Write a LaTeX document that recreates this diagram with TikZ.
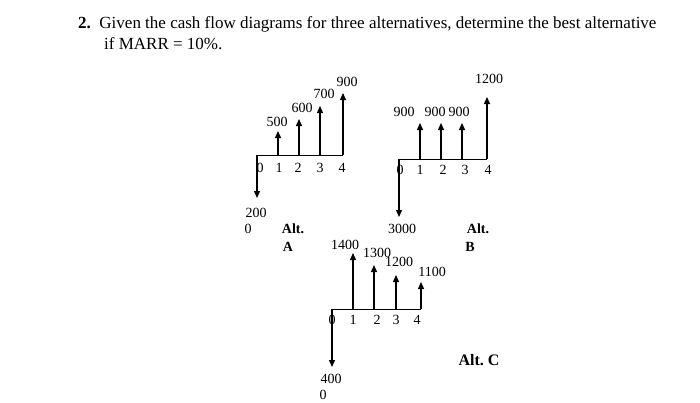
\documentclass[tikz,border=0pt]{standalone}
\usepackage{fontspec}
\setmainfont{Liberation Serif}
\usetikzlibrary{arrows.meta}

\begin{document}
\begin{tikzpicture}[x=1pt, y=-1pt, font=\fontsize{14}{16}\selectfont,
  flow/.style={-{Triangle[length=7pt, width=6pt]}, line width=1.3pt},
  lbl/.style={inner sep=0pt},
  alt/.style={inner sep=0pt, font=\fontsize{14}{16}\selectfont\bfseries}]
\useasboundingbox (0,0) rectangle (700,402);

% the question
\node [anchor=base west, inner sep=0pt, font=\fontsize{17}{20}\selectfont] (q1) at (78,28)
  {\textbf{2.}\ \ Given the cash flow diagrams for three alternatives, determine the best alternative};
\node [anchor=base west, inner sep=0pt, font=\fontsize{17}{20}\selectfont] (q2) at (104,49)
  {if MARR = 10\%.};

% Alt. A
\coordinate (a0) at (257,155);
\coordinate (a1) at (278,155);
\coordinate (a2) at (299,155);
\coordinate (a3) at (320,155);
\coordinate (a4) at (343,155);
\coordinate (ta0) at (257,198);
\coordinate (ta1) at (278,131);
\coordinate (ta2) at (299,119);
\coordinate (ta3) at (320,106);
\coordinate (ta4) at (343,93);
\draw (a0) -- (a4);
\draw [flow] (a0) -- (ta0);
\draw [flow] (a1) -- (ta1);
\draw [flow] (a2) -- (ta2);
\draw [flow] (a3) -- (ta3);
\draw [flow] (a4) -- (ta4);

\node [lbl] (va1) at (277,122) {500};
\node [lbl] (va2) at (302,108) {600};
\node [lbl] (va3) at (324,94) {700};
\node [lbl] (va4) at (347,82) {900};
\node [lbl] (na0) at (260,168) {0};
\node [lbl] (na1) at (279,168) {1};
\node [lbl] (na2) at (298,168) {2};
\node [lbl] (na3) at (320,168) {3};
\node [lbl] (na4) at (342,168) {4};
\node [lbl] (va0) at (256,213) {200};
\node [lbl] (va0b) at (248,229) {0};
\node [alt] (altA) at (293,229) {Alt.};
\node [alt] (altAb) at (288,247) {A};

% Alt. B
\coordinate (b0) at (399,159);
\coordinate (b1) at (420,159);
\coordinate (b2) at (441,159);
\coordinate (b3) at (462,159);
\coordinate (b4) at (487,159);
\coordinate (tb0) at (399,217);
\coordinate (tb1) at (420,123);
\coordinate (tb2) at (441,123);
\coordinate (tb3) at (462,123);
\coordinate (tb4) at (487,97);
\draw (b0) -- (b4);
\draw [flow] (b0) -- (tb0);
\draw [flow] (b1) -- (tb1);
\draw [flow] (b2) -- (tb2);
\draw [flow] (b3) -- (tb3);
\draw [flow] (b4) -- (tb4);

\node [lbl] (vb1) at (404,112) {900};
\node [lbl] (vb2) at (435,112) {900};
\node [lbl] (vb3) at (459,112) {900};
\node [lbl] (vb4) at (489,79) {1200};
\node [lbl] (nb0) at (400,170) {0};
\node [lbl] (nb1) at (420,170) {1};
\node [lbl] (nb2) at (443,170) {2};
\node [lbl] (nb3) at (465,170) {3};
\node [lbl] (nb4) at (488,170) {4};
\node [lbl] (vb0) at (402,229) {3000};
\node [alt] (altB) at (478,229) {Alt.};
\node [alt] (altBb) at (470,247) {B};

% Alt. C
\coordinate (c0) at (332,309);
\coordinate (c1) at (353,309);
\coordinate (c2) at (374,309);
\coordinate (c3) at (396,309);
\coordinate (c4) at (421,309);
\coordinate (tc0) at (332,367);
\coordinate (tc1) at (353,253);
\coordinate (tc2) at (374,265);
\coordinate (tc3) at (396,275);
\coordinate (tc4) at (421,282);
\draw (c0) -- (c4);
\draw [flow] (c0) -- (tc0);
\draw [flow] (c1) -- (tc1);
\draw [flow] (c2) -- (tc2);
\draw [flow] (c3) -- (tc3);
\draw [flow] (c4) -- (tc4);

\node [lbl] (vc1) at (345,245) {1400};
\node [lbl] (vc2) at (377,253) {1300};
\node [lbl] (vc3) at (399,262) {1200};
\node [lbl] (vc4) at (432,272) {1100};
\node [lbl] (nc0) at (332,320) {0};
\node [lbl] (nc1) at (353,320) {1};
\node [lbl] (nc2) at (377,320) {2};
\node [lbl] (nc3) at (396,320) {3};
\node [lbl] (nc4) at (417,320) {4};
\node [lbl] (vc0) at (331,379) {400};
\node [lbl] (vc0b) at (323,395) {0};
\node [alt, font=\fontsize{16}{18}\selectfont\bfseries] (altC) at (479,360) {Alt.\ C};
\end{tikzpicture}
\end{document}
